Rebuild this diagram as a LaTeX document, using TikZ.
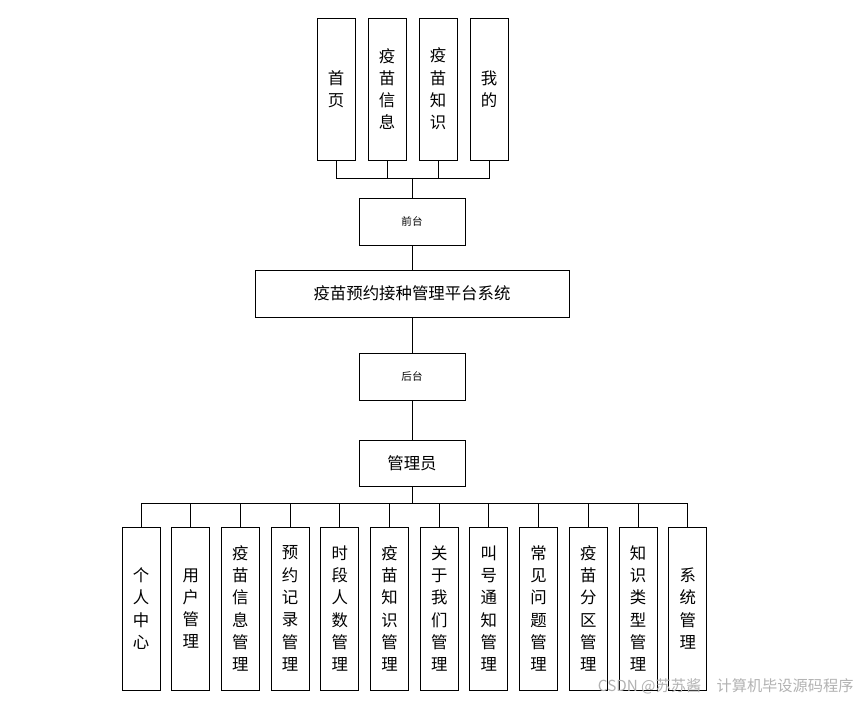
\documentclass[tikz,border=0pt]{standalone}
\usepackage{fontspec}
\newfontfamily\cjk{Noto Sans CJK SC}
\begin{document}
\begin{tikzpicture}[x=0.03cm,y=-0.03cm,
  box/.style={draw,thick,inner sep=0pt,font=\cjk\fontsize{14}{19}\selectfont,align=center},
  vbox/.style={box,minimum width=38*0.03cm},
  every path/.style={thick}]
\useasboundingbox (0,0) rectangle (868,704);
% front end
\foreach \n/\x/\t in {a/336/首\\页,b/387/疫\\苗\\信\\息,c/438/疫\\苗\\知\\识,d/489/我\\的}
  \node[vbox,minimum height=142*0.03cm] (\n) at (\x,89) {\t};
\node[box,minimum width=106*0.03cm,minimum height=47*0.03cm,font=\cjk\small] (front) at (412,221.5) {前台};
\node[box,minimum width=314*0.03cm,minimum height=47*0.03cm] (sys) at (412,293.5) {疫苗预约接种管理平台系统};
\node[box,minimum width=106*0.03cm,minimum height=47*0.03cm,font=\cjk\small] (back) at (412,376.5) {后台};
\node[box,minimum width=106*0.03cm,minimum height=46*0.03cm] (admin) at (412,463) {管理员};
\coordinate (topbus) at (412,178);
\foreach \n in {a,b,c,d} \draw (\n.south) |- (topbus);
\draw (topbus) -- (front.north);
\draw (front) -- (sys) -- (back) -- (admin);
% admin modules
\coordinate (bus) at (412,503);
\foreach \i/\t in {0/个\\人\\中\\心,1/用\\户\\管\\理,2/疫\\苗\\信\\息\\管\\理,3/预\\约\\记\\录\\管\\理,
  4/时\\段\\人\\数\\管\\理,5/疫\\苗\\知\\识\\管\\理,6/关\\于\\我\\们\\管\\理,7/叫\\号\\通\\知\\管\\理,
  8/常\\见\\问\\题\\管\\理,9/疫\\苗\\分\\区\\管\\理,10/知\\识\\类\\型\\管\\理,11/系\\统\\管\\理}{
  \node[vbox,minimum height=163*0.03cm] (m\i) at (141+49.7*\i,608.5) {\t};
  \draw (m\i.north) |- (admin.south |- bus);
}
\draw (admin) -- (bus);
\node[font=\cjk\fontsize{13}{15}\selectfont,text=gray!60,anchor=east] (wm) at (858,686) {CSDN @苏苏酱\quad 计算机毕设源码程序};
\end{tikzpicture}
\end{document}
